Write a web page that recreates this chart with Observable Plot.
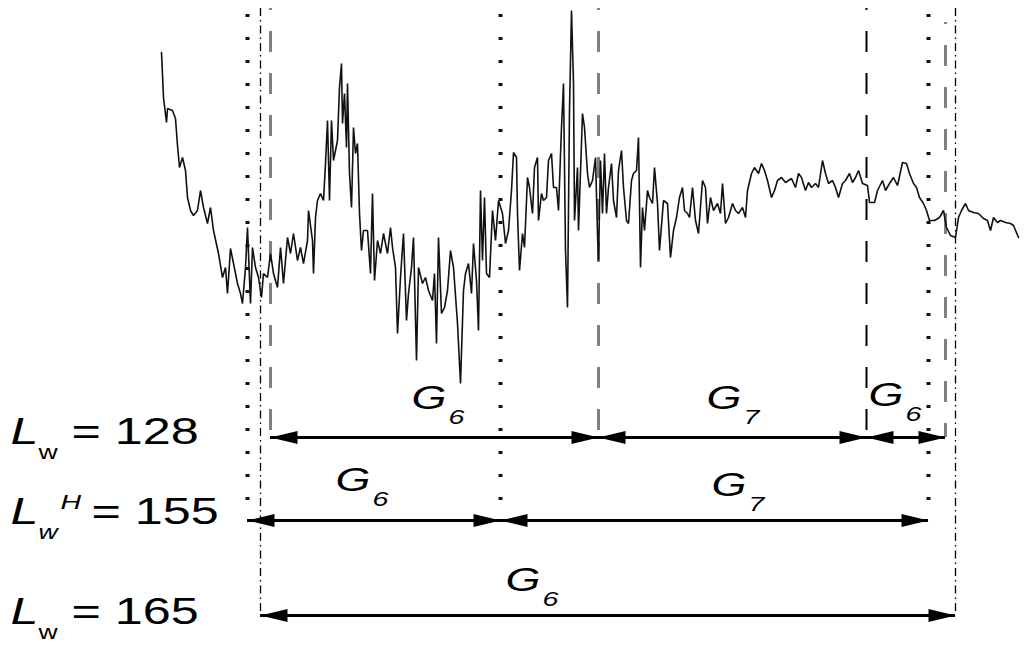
<!DOCTYPE html>
<html><head><meta charset="utf-8">
<script src="https://cdn.jsdelivr.net/npm/d3@7"></script>
<script src="https://cdn.jsdelivr.net/npm/@observablehq/plot@0.6"></script>
<style>html,body{margin:0;padding:0;background:#fff;overflow:hidden}#chart svg{display:block}</style>
</head><body><div id="chart"></div>
<script>
// ---------- DATA ----------
// signal samples: [position, level] (level measured downward)
const signal = [
[161,52],[163,97],[166,122],[167,108],[172,110],[175,118],[177,145],[179,167],[182,157],[185,170],[187,197],[190,210],[193,215],[197,210],[200,190],[203,207],[207,223],[210,207],[213,230],[218,253],[222,277],[225,267],[227,293],[230,248],[233,263],[237,283],[240,293],[242,303],[245,267],[247,227],[248,253],[250,303],[252,247],[255,267],[258,277],[261,297],[263,273],[267,277],[270,253],[273,273],[277,287],[280,247],[283,283],[287,237],[290,253],[293,233],[297,260],[300,247],[303,263],[307,240],[308,210],[312,240],[313,273],[315,217],[317,200],[320,193],[323,200],[325,163],[327,120],[329,200],[331,120],[333,160],[337,140],[339,87],[341,63],[342,123],[344,93],[346,147],[347,83],[349,173],[351,207],[353,127],[355,153],[357,143],[359,213],[361,250],[363,230],[367,230],[370,273],[372,193],[374,280],[377,240],[380,253],[383,233],[387,253],[390,227],[392,247],[395,267],[397,333],[400,277],[403,233],[406,320],[408,293],[411,267],[413,237],[416,360],[418,267],[422,283],[425,277],[428,290],[432,300],[434,273],[436,343],[438,237],[441,313],[444,307],[447,290],[450,250],[453,267],[457,323],[460,383],[463,290],[465,273],[468,263],[471,293],[473,243],[476,280],[478,330],
[480,190],[482,260],[484,197],[486,273],[489,277],[492,210],[495,240],[498,200],[502,213],[505,243],[508,230],[511,190],[513,152],[516,157],[517,213],[519,270],[522,233],[524,247],[527,177],[529,187],[532,213],[534,167],[537,157],[538,220],[541,193],[543,200],[546,197],[548,160],[551,153],[553,187],[556,187],[558,210],[561,127],[563,83],[565,250],[567,307],[569,110],[571,10],[573,83],[574,220],[577,167],[578,230],[582,113],[584,127],[587,173],[589,187],[592,180],[595,157],[597,233],[598,260],[600,160],[602,213],[604,153],[606,213],[608,187],[611,163],[613,200],[616,217],[618,170],[621,150],[623,187],[626,220],[628,223],[631,180],[633,173],[636,170],[638,137],[640,267],[642,207],[644,230],[647,190],[649,197],[652,203],[654,167],[657,203],[659,250],
[663,200],[667,203],[670,257],[673,230],[676,217],[679,197],[682,187],[684,210],[687,213],[689,217],[692,187],[695,220],[698,233],[702,180],[705,187],[707,223],[710,197],[713,210],[717,203],[720,213],[722,183],[725,223],[728,217],[732,203],[735,210],[738,213],[742,207],[745,217],[747,190],[751,173],[754,167],[758,173],[761,163],[764,170],[767,180],[771,197],[774,190],[777,180],[781,177],[785,182],[788,180],[791,178],[795,187],[798,173],[801,177],[805,190],[808,182],[811,187],[815,183],[818,187],[822,160],[825,173],[828,183],[832,180],[835,187],[838,197],[842,183],[845,180],[849,173],[852,182],[855,177],[858,170],[862,183],[867,185],[869,202],[874,202],[877,190],[882,180],[885,190],[889,183],[893,177],[897,185],[902,162],[906,163],[909,173],[913,183],[916,187],[919,197],[923,203],[926,210],[929,220],[934,220],[939,217],[943,210],[946,227],[950,235],[955,237],[958,217],[961,210],[965,203],[968,210],[973,212],[978,213],[983,218],[987,220],[990,230],[993,217],[997,222],[1000,220],[1005,222],[1010,223],[1013,225],[1018,237]
];
// window boundaries for each segmentation
const bounds128  = [270, 598, 866, 945];
const boundsH155 = [247, 500, 928];
const bounds165  = [260, 955];
// group labels for each window
const groups128  = ["G6", "G7", "G6"];
const groupsH155 = ["G6", "G7"];
const groups165  = ["G6"];
// row labels
const rowNames  = ["L", "L", "L"];
const rowSubs   = ["w", "w", "w"];
const rowSups   = ["", "H", ""];
const rowValues = [128, 155, 165];

// ---------- LAYOUT ----------
const W = 1024, H = 645;
const rowY = [437, 520, 615];
const rowBase = [443, 523, 623];
const eqX = [71, 91, 71];
// label anchor positions [x of G, baseline]
const labelPos = [
  [[411, 408], [706, 408], [868, 405]],
  [[335, 490], [711, 495]],
  [[505, 590]]
];
const SX = 1.36; // horizontal stretch of glyphs
const FONT = "Liberation Sans, Arial, Helvetica, sans-serif";

const headR = {draw(c){c.moveTo(0,0);c.lineTo(-27,-6.5);c.lineTo(-27,6.5);c.closePath();}};
const headL = {draw(c){c.moveTo(0,0);c.lineTo(27,-6.5);c.lineTo(27,6.5);c.closePath();}};

const rows = [
  {bounds: bounds128, groups: groups128},
  {bounds: boundsH155, groups: groupsH155},
  {bounds: bounds165, groups: groups165}
];
const segs = [];
const gTexts = [], gSubs = [];
rows.forEach((r, ri) => {
  for (let i = 0; i < r.bounds.length - 1; i++) {
    segs.push({x1: r.bounds[i], x2: r.bounds[i+1], y: rowY[ri]});
    const g = r.groups[i];
    const [lx, ly] = labelPos[ri][i];
    gTexts.push({x: lx, y: ly, t: g[0]});
    gSubs.push({x: lx + 37, y: ly + 15, t: g.slice(1)});
  }
});

// vertical boundary lines
const dashedLines = bounds128.map((x, i) => ({x, y1: i === 3 ? 22 : 8, y2: rowY[0], black: i === 2}));
const dottedLines = boundsH155.map(x => ({x, y1: 14, y2: rowY[1]}));
const dashDotLines = bounds165.map(x => ({x, y1: 8, y2: rowY[2]}));

const Ltexts = rowNames.map((t, i) => ({x: 10, y: rowBase[i], t}));
const subTexts = rowSubs.map((t, i) => ({x: 38, y: rowBase[i] + 15, t, it: i === 1}));
const supTexts = rowSups.map((t, i) => ({x: 60, y: rowBase[i] - 15, t})).filter(d => d.t);
const eqTexts = rowValues.map((v, i) => ({x: eqX[i], y: rowBase[i], t: "= " + v}));

const txt = (data, size, style) => Plot.text(data, {x: "x", y: "y", text: "t", fontSize: size, fontStyle: style,
  fontFamily: FONT, textAnchor: "start", lineAnchor: "bottom", fill: "#000"});

const chart = Plot.plot({
  width: W, height: H,
  marginTop: 0, marginBottom: 0, marginLeft: 0, marginRight: 0,
  x: {domain: [0, W], range: [0, W], axis: null},
  y: {domain: [0, H], range: [0, H], axis: null},
  style: {background: "#fff", overflow: "visible"},
  marks: [
    Plot.ruleX(dashDotLines, {x: "x", y1: "y1", y2: "y2", stroke: "#000", strokeWidth: 1.3, strokeDasharray: "8,4,1.5,4"}),
    Plot.ruleX(dottedLines, {x: "x", y1: "y1", y2: "y2", stroke: "#111", strokeWidth: 4, strokeDasharray: "3,20"}),
    Plot.ruleX(dashedLines.filter(d => !d.black), {x: "x", y1: "y1", y2: "y2", stroke: "#808080", strokeWidth: 3, strokeDasharray: "21,21", strokeDashoffset: 19}),
    Plot.ruleX(dashedLines.filter(d => d.black), {x: "x", y1: "y1", y2: "y2", stroke: "#000", strokeWidth: 2, strokeDasharray: "21,21", strokeDashoffset: 19}),
    Plot.line(signal, {x: d => d[0], y: d => d[1], stroke: "#111", strokeWidth: 1.6, strokeLinejoin: "miter"}),
    Plot.ruleY(segs, {y: "y", x1: "x1", x2: "x2", stroke: "#000", strokeWidth: 3}),
    Plot.dot(segs, {x: "x2", y: "y", symbol: headR, fill: "#000", stroke: "none"}),
    Plot.dot(segs, {x: "x1", y: "y", symbol: headL, fill: "#000", stroke: "none"}),
    txt(Ltexts, 37, "italic"),
    txt(subTexts.filter(d => !d.it), 19.5, "normal"),
    txt(subTexts.filter(d => d.it), 19.5, "italic"),
    txt(supTexts, 21, "italic"),
    txt(eqTexts, 37, "normal"),
    txt(gTexts, 33, "italic"),
    txt(gSubs, 21, "italic")
  ]
});
chart.querySelectorAll("text").forEach(t => {
  t.setAttribute("transform", (t.getAttribute("transform") || "") + ` scale(${SX},1)`);
});
document.getElementById("chart").appendChild(chart);
</script>
</body></html>
